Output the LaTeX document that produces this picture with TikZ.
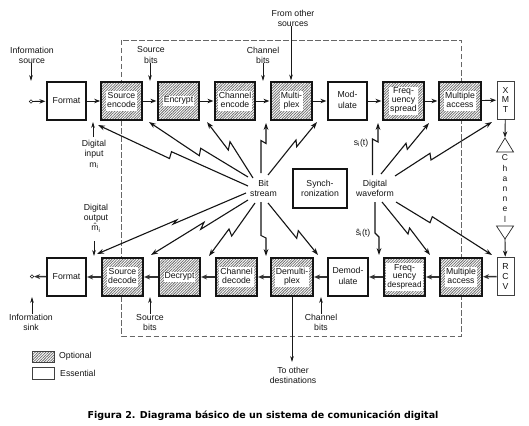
\documentclass[tikz,border=0pt]{standalone}
\usepackage{fontspec}
\setmainfont{Liberation Sans}
\newfontfamily\titlefont{DejaVu Sans}
\usetikzlibrary{arrows.meta,patterns.meta}
\newcommand{\hb}[1]{{\setlength{\fboxsep}{1pt}\colorbox{white}{\renewcommand{\arraystretch}{0.84}\begin{tabular}{@{}c@{}}#1\end{tabular}}}}
\newcommand{\bolt}[5]{\coordinate (#1s) at (#2); \coordinate (#1e) at (#5); \draw[boltline] (#1s) -- (#3) -- (#4) -- (#1e);}
\tikzset{
  x=1pt,y=-1pt,
  every node/.style={font=\fontsize{8.7}{10.2}\selectfont,inner sep=0pt,text=black!92},
  lbl/.style={align=center},
  hatch/.style={pattern={Lines[angle=45,distance=1.9pt,line width=0.75pt]},pattern color=black!58},
  rowbox/.style={rectangle,draw=black!92,line width=2.2pt,minimum height=38pt},
  plainbox/.style={rowbox,fill=white},
  optbox/.style={rowbox,preaction={fill=white},hatch},
  thinbox/.style={rectangle,draw=black!75,line width=0.7pt,fill=white,align=center},
  arr/.style={-{Stealth[length=6pt,width=4.5pt]},line width=0.9pt,draw=black!90,shorten >=0.5pt},
  arrb/.style={-{Stealth[length=6pt,width=5pt]},line width=1.4pt,draw=black!80},
  note/.style={-{Stealth[length=6pt,width=3.6pt]},line width=0.7pt,draw=black!90},
  boltline/.style={-{Stealth[length=7pt,width=4.8pt]},line width=1.1pt,draw=black!92,miter limit=10},
  frameline/.style={draw=black!60,line width=0.7pt,dash pattern=on 5.5pt off 2.5pt},
  ring/.style={circle,draw=black!90,line width=0.6pt,minimum size=3.6pt,fill=white},
  tri/.style={draw=black!85,line width=0.7pt,fill=white,line join=miter}
}
\begin{document}
\begin{tikzpicture}
\useasboundingbox[fill=white] (0,0) rectangle (529,425);
\draw[frameline] (121.5,40) rectangle (461,336);

% top row
\node[plainbox,minimum width=39pt] (fmtT) at (66.5,101) {Format};
\node[optbox,minimum width=41pt] (srcenc) at (121.5,101) {\hb{Source\\encode}};
\node[optbox,minimum width=41pt] (encr) at (178.5,101) {\hb{Encrypt}};
\node[optbox,minimum width=40pt] (chenc) at (235,101) {\hb{Channel\\encode}};
\node[optbox,minimum width=41pt] (mux) at (291.5,101) {\hb{Multi-\\plex}};
\node[plainbox,minimum width=39pt] (mod) at (347.5,101) {\begin{tabular}{@{}c@{}}Mod-\\ulate\end{tabular}};
\node[optbox,minimum width=41pt] (sprd) at (403.5,101) {\hb{Freq-\\uency\\spread}};
\node[optbox,minimum width=42pt] (maT) at (460,101) {\hb{Multiple\\access}};
\node[thinbox,minimum width=17pt,minimum height=38pt] (xmt) at (505.5,100) {X\\[-0.5pt]M\\[-0.5pt]T};

% bottom row
\node[plainbox,minimum width=39pt] (fmtB) at (66.5,277) {Format};
\node[optbox,minimum width=41pt] (srcdec) at (122.5,277) {\hb{Source\\decode}};
\node[optbox,minimum width=41pt] (decr) at (179.5,277) {\hb{Decrypt}};
\node[optbox,minimum width=41pt] (chdec) at (236.5,277) {\hb{Channel\\decode}};
\node[optbox,minimum width=42pt] (dmux) at (292,277) {\hb{Demulti-\\plex}};
\node[plainbox,minimum width=40pt] (demod) at (348,277) {\begin{tabular}{@{}c@{}}Demod-\\ulate\end{tabular}};
\node[optbox,minimum width=41pt] (dsprd) at (404.5,277) {\hb{Freq-\\uency\\{\fontsize{8.2}{10}\selectfont despread}}};
\node[optbox,minimum width=42pt] (maB) at (461,277) {\hb{Multiple\\access}};
\node[thinbox,minimum width=17pt,minimum height=38pt] (rcv) at (505.5,276.5) {R\\[-0.5pt]C\\[-0.5pt]V};

% synchronization
\node[rectangle,draw=black!92,line width=2.2pt,fill=white,minimum width=54pt,minimum height=39pt,align=center] (sync) at (320,188.5) {Synch-\\ronization};

% row connectors
\node[ring] (inT) at (31,101.5) {};
\node[ring] (outB) at (32,276.5) {};
\draw[arr] (inT) -- (fmtT);
\draw[arr] (fmtT) -- (srcenc);
\draw[arr] (srcenc) -- (encr);
\draw[arr] (encr) -- (chenc);
\draw[arr] (chenc) -- (mux);
\draw[arr] (mux) -- (mod);
\draw[arr] (mod) -- (sprd);
\draw[arr] (sprd) -- (maT);
\draw[arr] (maT) -- (xmt);
\draw[arrb] (rcv) -- (maB);
\draw[arrb] (maB) -- (dsprd);
\draw[arrb] (dsprd) -- (demod);
\draw[arrb] (demod) -- (dmux);
\draw[arrb] (dmux) -- (chdec);
\draw[arrb] (chdec) -- (decr);
\draw[arrb] (decr) -- (srcdec);
\draw[arrb] (srcdec) -- (fmtB);
\draw[arrb] (fmtB) -- (outB);

% antennas and channel
\coordinate (triU) at (505,138);
\coordinate (triD) at (505,239);
\draw[tri] (triU) -- (513.5,152) -- (496.5,152) -- cycle;
\draw[tri] (triD) -- (513.5,226) -- (496.5,226) -- cycle;
\draw[arr] (xmt) -- (triU);
\draw[arr] (triD) -- (rcv);
\node[lbl,font=\fontsize{8.5}{10.2}\selectfont] (chan) at (505,188.5) {C\\h\\a\\n\\n\\e\\l};

% labels
\node[lbl] (isrc) at (32,55) {Information\\source};
\node[lbl] (sbT) at (151,55) {Source\\bits};
\node[lbl] (cbT) at (263,55) {Channel\\bits};
\node[lbl] (oth) at (293,18) {From other\\sources};
\node[lbl] (dinp) at (94,154.5) {Digital\\input\\m\textsubscript{i}};
\node[lbl] (dout) at (96,218) {Digital\\output\\\^{m}\textsubscript{i}};
\node[lbl] (isnk) at (31,322.5) {Information\\sink};
\node[lbl] (sbB) at (150,322.5) {Source\\bits};
\node[lbl] (cbB) at (321,322.5) {Channel\\bits};
\node[lbl] (todst) at (293,375) {To other\\destinations};
\node (si) at (361,143) {s\textsubscript{i}(t)};
\node (shat) at (363,233) {\^{s}\textsubscript{i}(t)};

% label pointers
\coordinate (a1) at (31,81); \draw[note] (isrc.south -| a1) -- (a1);
\coordinate (a2) at (150,81); \draw[note] (sbT.south -| a2) -- (a2);
\coordinate (a3) at (263,81); \draw[note] (cbT.south -| a3) -- (a3);
\coordinate (a4) at (291,80.5); \draw[note] (oth.south -| a4) -- (a4);
\coordinate (a5) at (93,122); \coordinate (a5s) at (93,137); \draw[note] (a5s) -- (a5);
\coordinate (a6) at (94,256); \coordinate (a6s) at (94,241); \draw[note] (a6s) -- (a6);
\coordinate (a7) at (32,297); \draw[note] (isnk.north -| a7) -- (a7);
\coordinate (a8) at (150,297); \draw[note] (sbB.north -| a8) -- (a8);
\coordinate (a9) at (321,297); \draw[note] (cbB.north -| a9) -- (a9);
\coordinate (a10) at (292,362); \draw[note] (dmux.south -| a10) -- (a10);

% bit stream
\node[lbl] (bit) at (263.5,188.5) {Bit\\stream};
\bolt{b1}{248,186}{171.5,151.7}{169.5,158.5}{98,125}
\bolt{b2}{248,177}{200.7,148.3}{199.3,155.7}{149,122}
\bolt{b3}{253,178}{230,141.7}{228.3,150}{207,122}
\draw[boltline] (261,173) -- (261,140.5) -- (266,143.5) -- (266,123);
\bolt{b5}{268,175}{296,140}{296.7,146.7}{317,122}
\bolt{b6}{246,193}{173.3,224}{176.7,220}{97,254}
\bolt{b7}{248,200}{200.7,229.3}{204,222.3}{151,255}
\bolt{b8}{255,203}{231.7,236}{229,229}{209,256}
\draw[boltline] (261,202) -- (261,235.5) -- (266,238) -- (266,256);
\bolt{b10}{268,203}{296.7,238.3}{298.3,230.7}{318,255}

% digital waveform
\node[lbl] (wave) at (375,188.5) {Digital\\waveform};
\draw[boltline] (372.5,175) -- (372.5,139) -- (378,142) -- (378,123);
\bolt{w2}{381,174}{406,143.3}{407.3,149.3}{429,123}
\bolt{w3}{395,176}{430,153.3}{431,160}{492,122}
\draw[boltline] (375,202) -- (375,233) -- (379,237) -- (379,255);
\bolt{w5}{382,202}{408,234}{409.5,228}{430,255}
\bolt{w6}{396,202}{430,222.7}{432.3,216.7}{492,255}

% legend
\node[rectangle,draw=black!75,line width=0.7pt,preaction={fill=white},hatch,minimum width=22pt,minimum height=11pt] (lgo) at (43,356.5) {};
\node[rectangle,draw=black!75,line width=0.7pt,fill=white,minimum width=22pt,minimum height=12pt] (lge) at (43,373) {};
\node[anchor=west] (lgot) at (59,356) {Optional};
\node[anchor=west] (lget) at (60,373) {Essential};

% caption
\node[font=\titlefont\bfseries\fontsize{9.5}{11}\selectfont,text=black] (cap) at (263,416) {Figura 2. Diagrama básico de un sistema de comunicación digital};
\end{tikzpicture}
\end{document}
